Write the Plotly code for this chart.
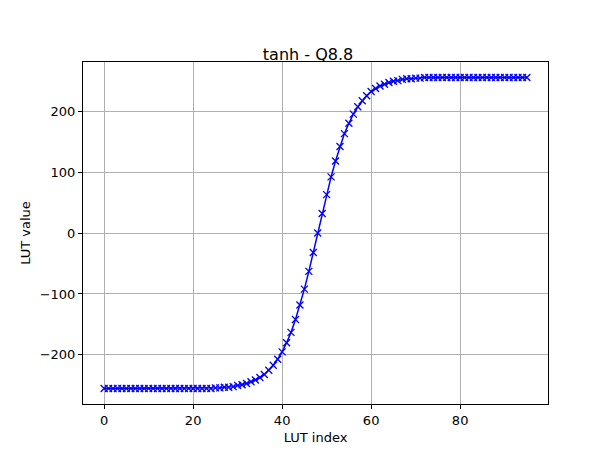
import plotly.graph_objects as go

lut_index = list(range(96))
lut_value = ([-255] * 25 +
             [-254, -254, -253, -253, -252, -250, -249, -247, -244, -241, -237, -232,
              -225, -217, -207, -195, -180, -163, -142, -118, -92, -63, -32,
              0, 32, 63, 92, 118, 142, 163, 180, 195, 207, 217, 225, 232, 237, 241,
              244, 247, 249, 250, 252, 253, 253, 254, 254] +
             [255] * 24)

fig = go.Figure()
fig.add_trace(go.Scatter(x=lut_index, y=lut_value, mode="lines+markers",
                         line=dict(color="blue", width=1.5),
                         marker=dict(symbol="x-thin", size=7, color="blue",
                                     line=dict(color="blue", width=1.3))))

ax = dict(showgrid=True, gridcolor="#b0b0b0", gridwidth=0.8, zeroline=False,
          showline=True, mirror=True, linecolor="black", linewidth=1,
          ticks="outside", ticklen=4, tickcolor="black", automargin=False,
          tickfont=dict(size=13, color="black"))
fig.update_layout(
    width=600, height=450, plot_bgcolor="white", paper_bgcolor="white",
    font=dict(family="DejaVu Sans", color="black"),
    margin=dict(l=75, r=60, t=54, b=54),
    showlegend=False,
    title=dict(text="tanh - Q8.8", x=0.5, xanchor="center", y=0.885, yanchor="bottom",
               font=dict(size=16)),
    xaxis=dict(ax, range=[-4.75, 99.75], tickvals=[0, 20, 40, 60, 80],
               title=dict(text="LUT index", font=dict(size=13), standoff=6)),
    yaxis=dict(ax, range=[-280.5, 280.5], tickvals=[-200, -100, 0, 100, 200],
               ticktext=["\u2212200", "\u2212100", "0", "100", "200"],
               title=dict(text="LUT value", font=dict(size=13), standoff=6)),
)
fig.write_html("out.html")
